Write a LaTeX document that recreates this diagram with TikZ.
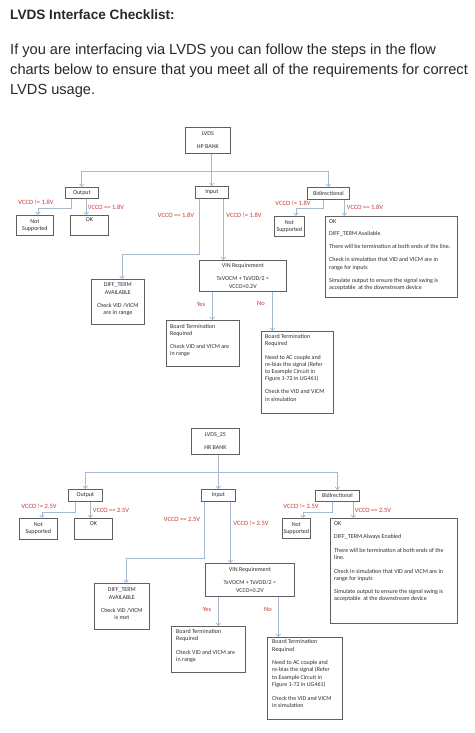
\documentclass[tikz,border=0pt]{standalone}
\usepackage{fontspec}
\setmainfont{Carlito}
\newfontfamily\hdrfont{Liberation Sans}
\usetikzlibrary{arrows.meta,calc}
\definecolor{boxgray}{RGB}{95,95,95}
\definecolor{conncol}{RGB}{165,185,208}
\definecolor{txtcol}{RGB}{45,45,45}
\definecolor{redlbl}{RGB}{200,55,55}
\definecolor{hdrcol}{RGB}{40,40,40}
\newcommand\chartfs{\fontsize{6}{7.2}\selectfont}
\newcommand\lblfs{\fontsize{6.5}{7.5}\selectfont}
\tikzset{
  box/.style={draw=boxgray, line width=0.7pt, fill=white, inner sep=0pt, anchor=north west, font=\chartfs, text=txtcol, align=center},
  conn/.style={draw=conncol, line width=0.8pt, -{Straight Barb[length=2.5pt,width=4.5pt]}},
  ptext/.style={font=\chartfs, text=txtcol, inner sep=0pt, align=left, anchor=north west},
  ctxt/.style={font=\chartfs, text=txtcol, inner sep=0pt, align=center, anchor=north},
  lbl/.style={font=\lblfs, text=redlbl, inner sep=0pt},
  para/.style={font=\hdrfont\fontsize{14.6}{20}\selectfont, text=hdrcol, inner sep=0pt, anchor=base west}
}
\begin{document}
\begin{tikzpicture}[x=1pt,y=-1pt]
\fill[white] (0,0) rectangle (474,733);
\useasboundingbox (0,0) rectangle (474,733);

% ---------- header ----------
\node[anchor=base west, font=\hdrfont\bfseries\fontsize{13.6}{16}\selectfont, text=hdrcol, inner sep=0pt] (title) at (10,20) {LVDS Interface Checklist:};
\node[para] (p1) at (10,55) {If you are interfacing via LVDS you can follow the steps in the flow};
\node[para] (p2) at (10,75) {charts below to ensure that you meet all of the requirements for correct};
\node[para] (p3) at (10,95) {LVDS usage.};

% ---------- chart 1 ----------
\node[box, minimum width=45pt, minimum height=26pt] (top1) at (185,127) {LVDS\\[6pt]HP BANK};
\node[box, minimum width=33pt, minimum height=11pt] (out1) at (65,187) {Output};
\node[box, minimum width=33pt, minimum height=12pt] (in1) at (195,186) {Input};
\node[box, minimum width=42pt, minimum height=12pt] (bi1) at (307,187) {Bidirectional};
\node[box, minimum width=37pt, minimum height=20pt] (ns1a) at (16,215) {Not\\Supported};
\node[box, minimum width=38pt, minimum height=20pt] (ok1a) at (70,215) {};
\node[box, minimum width=30pt, minimum height=20pt] (ns1b) at (274,216) {Not\\Supported};
\node[box, minimum width=132pt, minimum height=81pt] (ok1b) at (325,216) {};
\node[box, minimum width=53pt, minimum height=45pt] (dt1) at (91,279) {};
\node[box, minimum width=87pt, minimum height=31pt] (vin1) at (199,260) {VIN Requirement\\[6pt]TxVOCM + TxVOD/2 <\\VCCO+0.2V};
\node[box, minimum width=73pt, minimum height=46pt] (bt1a) at (166,320) {};
\node[box, minimum width=72pt, minimum height=82pt] (bt1b) at (261,331) {};

\node[ctxt] (ok1at) at ([yshift=-2.5pt]ok1a.north) {OK};
\node[ptext] (ok1bt) at ([shift={(4pt,-3.3pt)}]ok1b.north west) {OK\\[5pt]DIFF\_TERM Available\\[6pt]There will be termination at both ends of the line.\\[6pt]Check in simulation that VID and VICM are in\\range for inputs\\[6pt]Simulate output to ensure the signal swing is\\acceptable \ at the downstream device};
\node[ctxt] (dt1t) at ([yshift=-3.3pt]dt1.north) {DIFF\_TERM\\[1pt]AVAILABLE\\[6pt]Check VID /VICM\\are in range};
\node[ptext] (bt1at) at ([shift={(4pt,-4pt)}]bt1a.north west) {Board Termination\\Required\\[6pt]Check VID and VICM are\\in range};
\node[ptext] (bt1bt) at ([shift={(4pt,-3.3pt)}]bt1b.north west) {Board Termination\\Required\\[6pt]Need to AC couple and\\re-bias the signal (Refer\\to Example Circuit in\\Figure 1-72 in UG461)\\[6pt]Check the VID and VICM\\in simulation};

\coordinate (h1) at (212,171);
\coordinate (b1) at (38,208);
\coordinate (b2) at (122,254);
\coordinate (b3) at (296,208);
\coordinate (o1l) at ([xshift=-10.5pt]out1.south);
\coordinate (o1r) at ([xshift=4.5pt]out1.south);
\coordinate (i1l) at ([xshift=-12.5pt]in1.south);
\coordinate (i1r) at ([xshift=11.5pt]in1.south);
\coordinate (v1y) at ([xshift=-30.5pt]vin1.south);
\coordinate (v1n) at ([xshift=29.5pt]vin1.south);
\coordinate (bi1l) at ([xshift=-5pt]bi1.south);
\coordinate (bi1r) at ([xshift=16pt]bi1.south);

\draw[conn] (in1.north |- top1.south) -- (in1.north);
\draw[conn] (h1) -| (out1.north);
\draw[conn] (h1) -| (bi1.north);
\draw[conn] (o1l) |- (b1) -- (b1 |- ns1a.north);
\draw[conn] (o1r) -- (o1r |- ok1a.north);
\draw[conn] (i1l) |- (b2) -- (b2 |- dt1.north);
\draw[conn] (i1r) -- (i1r |- vin1.north);
\draw[conn] (v1y) -- (v1y |- bt1a.north);
\draw[conn] (v1n) -- (v1n |- bt1b.north);
\draw[conn] (bi1l) |- (b3) -- (b3 |- ns1b.north);
\draw[conn] (bi1r) -- (bi1r |- ok1b.north);

\node[lbl] (l1a) at (36,202) {VCCO != 1.8V};
\node[lbl] (l1b) at (106,207) {VCCO == 1.8V};
\node[lbl] (l1c) at (176,215) {VCCO == 1.8V};
\node[lbl] (l1d) at (244,215) {VCCO != 1.8V};
\node[lbl] (l1e) at (293,203) {VCCO != 1.8V};
\node[lbl] (l1f) at (365,207) {VCCO == 1.8V};
\node[lbl] (l1y) at (201,304) {Yes};
\node[lbl] (l1n) at (261,303) {No};

% ---------- chart 2 ----------
\node[box, minimum width=48pt, minimum height=26pt] (top2) at (191,428) {LVDS\_25\\[6pt]HR BANK};
\node[box, minimum width=34pt, minimum height=12pt] (out2) at (68,489) {Output};
\node[box, minimum width=34pt, minimum height=12pt] (in2) at (201,489) {Input};
\node[box, minimum width=44pt, minimum height=11pt] (bi2) at (315,490) {Bidirectional};
\node[box, minimum width=38pt, minimum height=21pt] (ns2a) at (19,518) {Not\\Supported};
\node[box, minimum width=38pt, minimum height=21pt] (ok2a) at (74,518) {};
\node[box, minimum width=28pt, minimum height=20pt] (ns2b) at (282,518) {Not\\Supported};
\node[box, minimum width=127pt, minimum height=105pt] (ok2b) at (330,518) {};
\node[box, minimum width=55pt, minimum height=46pt] (dt2) at (94,583) {};
\node[box, minimum width=89pt, minimum height=33pt] (vin2) at (205,563) {VIN Requirement\\[6pt]TxVOCM + TxVOD/2 <\\VCCO+0.2V};
\node[box, minimum width=74pt, minimum height=46pt] (bt2a) at (171,626) {};
\node[box, minimum width=75pt, minimum height=82pt] (bt2b) at (267,637) {};

\node[ctxt] (ok2at) at ([yshift=-3pt]ok2a.north) {OK};
\node[ptext] (ok2bt) at ([shift={(4pt,-3.3pt)}]ok2b.north west) {OK\\[6pt]DIFF\_TERM Always Enabled\\[6.5pt]There will be termination at both ends of the\\line.\\[6.5pt]Check in simulation that VID and VICM are in\\range for inputs\\[6pt]Simulate output to ensure the signal swing is\\acceptable \ at the downstream device};
\node[ctxt] (dt2t) at ([yshift=-4pt]dt2.north) {DIFF\_TERM\\[1pt]AVAILABLE\\[6pt]Check VID /VICM\\is met};
\node[ptext] (bt2at) at ([shift={(5pt,-3.3pt)}]bt2a.north west) {Board Termination\\Required\\[6.5pt]Check VID and VICM are\\in range};
\node[ptext] (bt2bt) at ([shift={(5pt,-2.5pt)}]bt2b.north west) {Board Termination\\Required\\[6.5pt]Need to AC couple and\\re-bias the signal (Refer\\to Example Circuit in\\Figure 1-72 in UG461)\\[6.5pt]Check the VID and VICM\\in simulation};

\coordinate (h2) at (218,472);
\coordinate (b4) at (42,512);
\coordinate (b5) at (126,558);
\coordinate (b6) at (303,512);
\coordinate (o2l) at ([xshift=-10pt]out2.south);
\coordinate (o2r) at ([xshift=5pt]out2.south);
\coordinate (i2l) at ([xshift=-14pt]in2.south);
\coordinate (i2r) at ([xshift=12pt]in2.south);
\coordinate (v2y) at ([xshift=-31.5pt]vin2.south);
\coordinate (v2n) at ([xshift=28.5pt]vin2.south);
\coordinate (bi2l) at ([xshift=-5pt]bi2.south);
\coordinate (bi2r) at ([xshift=16pt]bi2.south);

\draw[conn] (in2.north |- top2.south) -- (in2.north);
\draw[conn] (h2) -| (out2.north);
\draw[conn] (h2) -| (bi2.north);
\draw[conn] (o2l) |- (b4) -- (b4 |- ns2a.north);
\draw[conn] (o2r) -- (o2r |- ok2a.north);
\draw[conn] (i2l) |- (b5) -- (b5 |- dt2.north);
\draw[conn] (i2r) -- (i2r |- vin2.north);
\draw[conn] (v2y) -- (v2y |- bt2a.north);
\draw[conn] (v2n) -- (v2n |- bt2b.north);
\draw[conn] (bi2l) |- (b6) -- (b6 |- ns2b.north);
\draw[conn] (bi2r) -- (bi2r |- ok2b.north);

\node[lbl] (l2a) at (39,506) {VCCO != 2.5V};
\node[lbl] (l2b) at (111,510) {VCCO == 2.5V};
\node[lbl] (l2c) at (182,519) {VCCO == 2.5V};
\node[lbl] (l2d) at (251,523) {VCCO != 2.5V};
\node[lbl] (l2e) at (301,506) {VCCO != 2.5V};
\node[lbl] (l2f) at (373,510) {VCCO == 2.5V};
\node[lbl] (l2y) at (207,609) {Yes};
\node[lbl] (l2n) at (268,609) {No};
\end{tikzpicture}
\end{document}
